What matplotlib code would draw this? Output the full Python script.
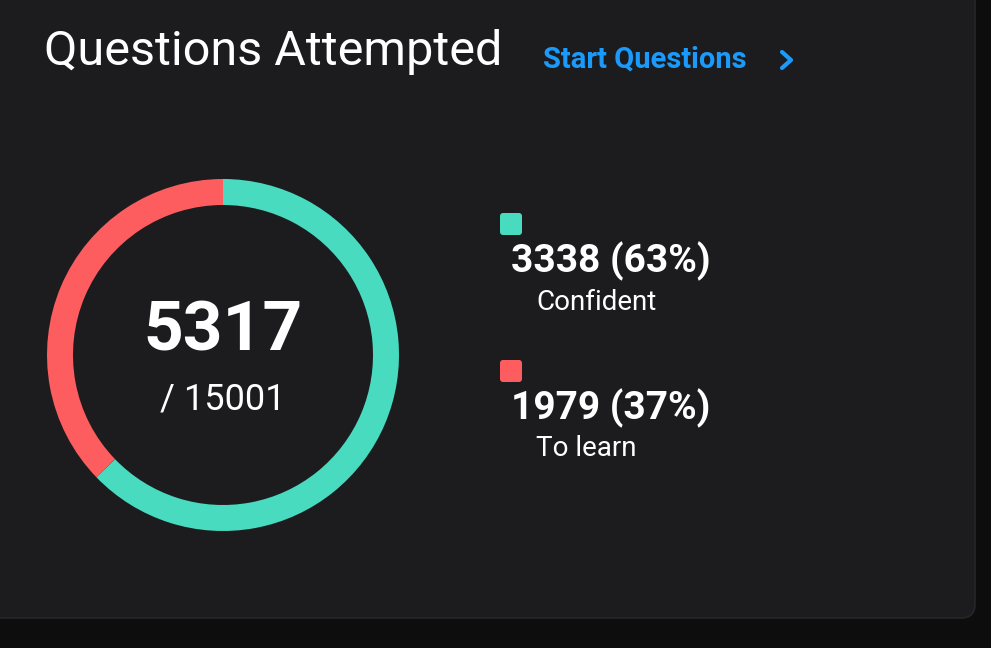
import matplotlib
matplotlib.use("Agg")
import matplotlib.pyplot as plt
from matplotlib.patches import FancyBboxPatch

plt.rcParams['font.family'] = ['Roboto', 'DejaVu Sans']

labels = ["Confident", "To learn"]
counts = [3338, 1979]
colors = ["#48dbbf", "#fd5d5e"]
total = 15001
attempted = sum(counts)

fig = plt.figure(figsize=(9.91, 6.48), dpi=100)
fig.patch.set_facecolor("#0d0d0e")

# background canvas in pixel coordinates
bg = fig.add_axes([0, 0, 1, 1])
bg.set_xlim(0, 991)
bg.set_ylim(648, 0)
bg.axis("off")
card = FancyBboxPatch((-40, -40), 1015, 658, boxstyle="round,pad=0,rounding_size=14",
                      fc="#1c1c1e", ec="#26262a", lw=1.2)
bg.add_patch(card)

bg.text(44, 52, "Questions Attempted", color="white", fontsize=35, va="center", ha="left")
bg.text(543, 60, "Start Questions", color="#1a9bfc", fontsize=21, fontweight="bold",
        va="center", ha="left")
bg.plot([782, 791, 782], [52, 60, 68], color="#1a9bfc", lw=3, solid_capstyle="round",
        solid_joinstyle="round")

pct = [round(c / attempted * 100) for c in counts]
for i, (lab, c, p, col) in enumerate(zip(labels, counts, pct, colors)):
    y0 = 224 + i * 147
    bg.add_patch(FancyBboxPatch((500, y0 - 11), 22, 22, boxstyle="round,pad=0,rounding_size=3",
                                fc=col, ec="none"))
    bg.text(511, y0 + 37, f"{c} ({p}%)", color="white", fontsize=28, fontweight="bold",
            va="center", ha="left")
    bg.text(536, y0 + 78, lab, color="white", fontsize=20, va="center", ha="left")

# donut
ax = fig.add_axes([47 / 991, (648 - 531) / 648, 352 / 991, 352 / 648])
ax.pie(counts, colors=colors, startangle=90, counterclock=False,
       wedgeprops=dict(width=26 / 176, edgecolor="none"), radius=1)
ax.set_xlim(-1, 1)
ax.set_ylim(-1, 1)
ax.set_aspect("equal")
ax.axis("off")
ax.text(0, 0.13, str(attempted), color="white", fontsize=50, fontweight="bold",
        ha="center", va="center")
ax.text(0, -0.25, f"/ {total}", color="white", fontsize=26, fontweight="normal",
        ha="center", va="center")

fig.savefig("out.png", dpi=100, facecolor=fig.get_facecolor())
